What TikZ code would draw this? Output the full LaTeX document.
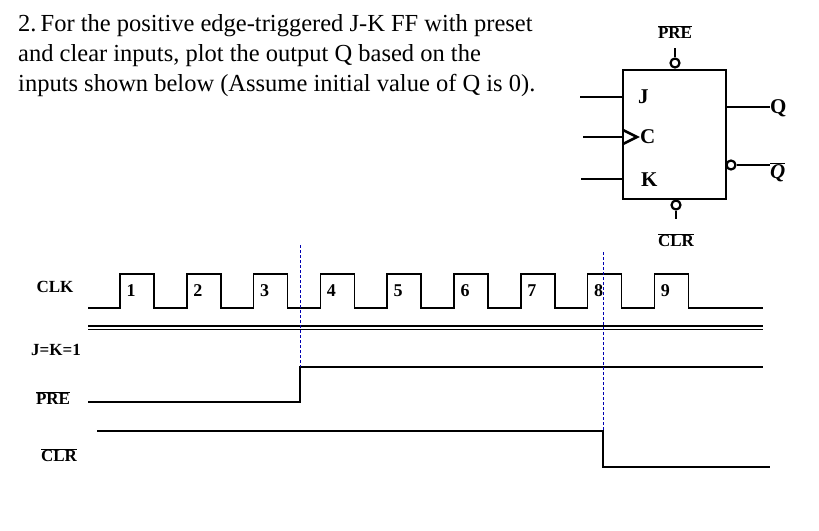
\documentclass[tikz,border=0pt]{standalone}
\usepackage{fontspec}
\setmainfont{Liberation Serif}
\begin{document}
\begin{tikzpicture}[x=1pt,y=-1pt,
  w/.style={line width=2.6pt},
  lbl/.style={font=\bfseries\fontsize{17}{19}\selectfont,inner sep=0},
  big/.style={font=\bfseries\fontsize{21}{23}\selectfont,inner sep=0},
  num/.style={font=\bfseries\fontsize{18}{20}\selectfont,inner sep=0},
  bub/.style={circle,draw,line width=2.2pt,minimum size=9pt,inner sep=0},
  dsh/.style={draw=blue!70!black,dashed,line width=0.6pt,dash pattern=on 3pt off 2pt}]
\useasboundingbox (0,0) rectangle (819,530);
\node[anchor=north west,align=left,inner sep=0,font=\fontsize{24.5}{30}\selectfont] (title) at (18,14)
 {2.\,For the positive edge-triggered J-K FF with preset\\and clear inputs, plot the output Q based on the\\inputs shown below (Assume initial value of Q is 0).};
% flip-flop
\node[draw,w,minimum width=103pt,minimum height=129pt,inner sep=0] (ff) at (674.5,134.5) {};
\node[big,anchor=west] (J) at (638,97) {J};
\node[big,anchor=west] (C) at (640,137) {C};
\node[big,anchor=west] (K) at (641,180) {K};
\coordinate (jin) at (580,97);
\coordinate (cin) at (583,137);
\coordinate (kin) at (581,179);
\draw[w] (jin) -- (jin -| ff.west);
\draw[w] (kin) -- (kin -| ff.west);
\draw[w] (cin) -- (cin -| ff.west);
\draw[w] (623,130) -- (637,137) -- (623,144);
\node[bub] (pb) at (675,63) {};
\coordinate (pt) at (675,48);
\draw[w] (pt) -- (pb.north);
\node[lbl] (pre) at (675,32) {$\overline{\mbox{PRE}}$};
\node[bub] (cb) at (676,205) {};
\coordinate (cbt) at (676,219);
\draw[w] (cb.south) -- (cbt);
\node[lbl] (clrl) at (676,240) {$\overline{\mbox{CLR}}$};
\coordinate (qo) at (770,107);
\draw[w] (qo -| ff.east) -- (qo);
\node[big,anchor=west] (Q) at (770,108) {Q};
\node[bub] (qb) at (731,165) {};
\coordinate (qbo) at (770,165);
\draw[w] (qb.east) -- (qbo);
\node[big,anchor=west] (Qb) at (770,172) {$\overline{\mbox{\itshape Q}}$};
% labels
\node[lbl] (lclk) at (55,287) {CLK};
\node[lbl] (ljk) at (56,350) {J=K=1};
\node[lbl] (lpre) at (53,398) {$\overline{\mbox{PRE}}$};
\node[lbl] (lclr) at (59,455) {$\overline{\mbox{CLR}}$};
% clock
\draw[line width=1.5pt] (88,308)
  \foreach \k in {0,...,8}{ -- ({120+66.8*\k},308) -- ({120+66.8*\k},274) -- ({154+66.8*\k},274) -- ({154+66.8*\k},308)} -- (763,308);
\foreach \k in {1,...,9}{\node[num] (n\k) at ({131+66.8*(\k-1)},291) {\k};}
\draw[line width=1.5pt] (88,326) -- (763,326);
\draw[line width=1pt] (88,329.5) -- (763,329.5);
% PRE
\draw[line width=1.5pt] (88,402) -- (300,402) -- (300,367) -- (763,367);
% CLR
\draw[line width=1.5pt] (97,431) -- (603,431) -- (603,467) -- (770,467);
\draw[dsh] (300,245) -- (300,367);
\draw[dsh] (603,252) -- (603,431);
\end{tikzpicture}
\end{document}
